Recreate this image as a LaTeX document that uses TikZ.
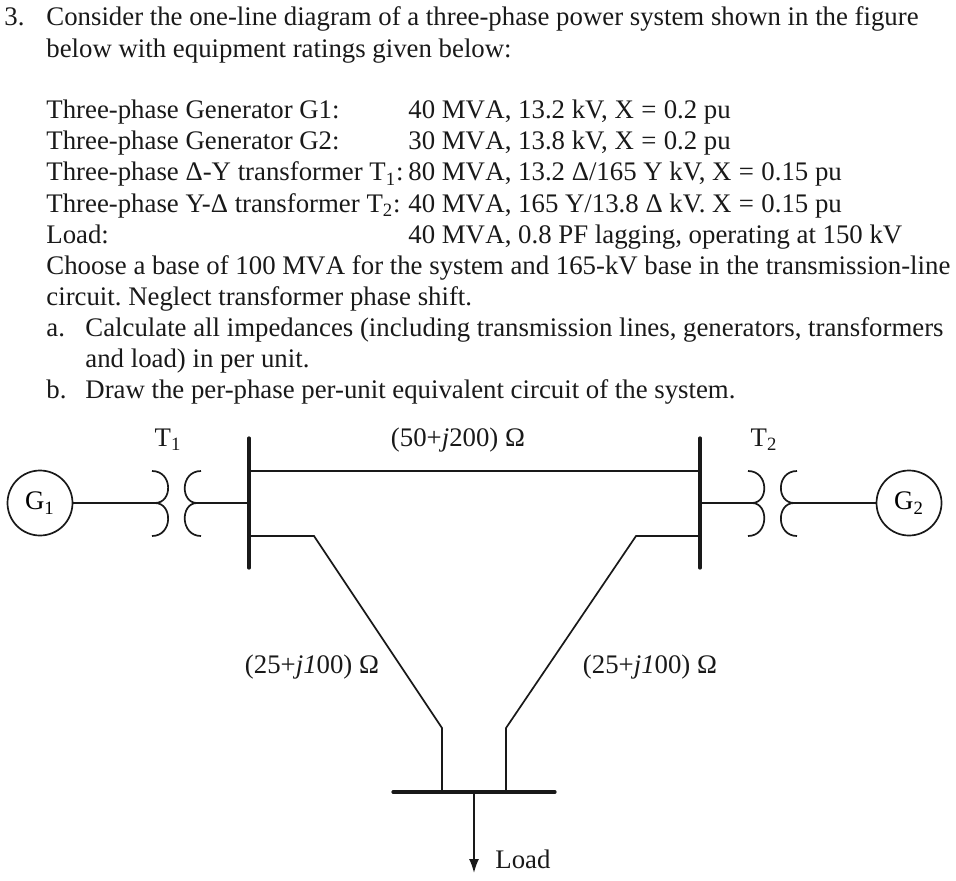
\documentclass[tikz,border=0pt]{standalone}
\usepackage{fontspec}
\setmainfont{Liberation Serif}
\usepackage{tikz}
\usetikzlibrary{arrows.meta}
\tikzset{
txt/.style={inner sep=0pt, anchor=base west, text=black!90, font=\fontsize{13.4}{15}\selectfont},
lab/.style={inner sep=0pt, text=black!90, font=\fontsize{13.4}{15}\selectfont},
wire/.style={line width=0.85pt, black!90},
busbar/.style={line width=1.6pt, black!90, line cap=round},
gen/.style={shape=circle, draw=black!90, line width=0.85pt, minimum size=32.5pt, inner sep=0pt, font=\fontsize{13.4}{15}\selectfont}
}
\newcommand{\sub}[1]{\textsubscript{#1}}
\newcommand{\eqsign}{\hspace{3.7pt}=\hspace{3.7pt}}
\newcommand{\mva}{MV\kern0.2pt A}
\begin{document}
\begin{tikzpicture}[x=0.5pt,y=0.5pt]
    \useasboundingbox (0,0) rectangle (956,880);

    % problem text
    \node[txt] (n3) at (4,854) {3.};
    \node[txt] (l1) at (46,854) {Consider the one-line diagram of a three-phase power system shown in the figure};
    \node[txt] (l2) at (46,822) {below with equipment ratings given below:};
    \node[txt] (r1) at (46,761) {Three-phase Generator G1:};
    \node[txt] (v1) at (408,761) {40 \mva, 13.2 kV, X\eqsign{}0.2 pu};
    \node[txt] (r2) at (46,730) {Three-phase Generator G2:};
    \node[txt] (v2) at (408,730) {30 \mva, 13.8 kV, X\eqsign{}0.2 pu};
    \node[txt] (r3) at (46,699) {Three-phase Δ-Y transformer T\sub{1}:};
    \node[txt] (v3) at (408,699) {80 \mva, 13.2 Δ/165 Y kV, X\eqsign{}0.15 pu};
    \node[txt] (r4) at (46,668) {Three-phase Y-Δ transformer T\sub{2}:};
    \node[txt] (v4) at (408,668) {40 \mva, 165 Y/13.8 Δ kV. X\eqsign{}0.15 pu};
    \node[txt] (r5) at (46,637) {Load:};
    \node[txt] (v5) at (408,637) {40 \mva, 0.8 PF lagging, operating at 150 kV};
    \node[txt] (l3) at (46,606) {Choose a base of 100 \mva{} for the system and 165-kV base in the transmission-line};
    \node[txt] (l4) at (46,575) {circuit.\ Neglect transformer phase shift.};
    \node[txt] (na) at (46,544) {a.};
    \node[txt] (l5) at (85,544) {Calculate all impedances (including transmission lines, generators, transformers};
    \node[txt] (l6) at (85,513) {and load) in per unit.};
    \node[txt] (nb) at (46,482) {b.};
    \node[txt] (l7) at (85,482) {Draw the per-phase per-unit equivalent circuit of the system.};

    % machines and buses
    \node[gen] (G1) at (40,377) {G\sub{1}};
    \node[gen] (G2) at (909,377) {G\sub{2}};
    \coordinate (B1t) at (249,442);
    \coordinate (B1b) at (249,312);
    \coordinate (B2t) at (700,442);
    \coordinate (B2b) at (700,312);
    \coordinate (B3l) at (393,88);
    \coordinate (B3r) at (555,88);
    \draw[busbar] (B1t) -- (B1b);
    \draw[busbar] (B2t) -- (B2b);
    \draw[busbar] (B3l) -- (B3r);

    % transformers
    \node[lab] (T1) at (168,440) {T\sub{1}};
    \node[lab] (T2) at (764,440) {T\sub{2}};
    \coordinate (T1a) at (155,377);
    \coordinate (T1b) at (197,377);
    \coordinate (T2a) at (752,377);
    \coordinate (T2b) at (794,377);
    \draw[wire] (152,409) .. controls (173,409) and (173,377) .. (T1a) .. controls (173,377) and (173,344) .. (152,344);
    \draw[wire] (201,409) .. controls (180,409) and (180,377) .. (T1b) .. controls (180,377) and (180,344) .. (201,344);
    \draw[wire] (748,409) .. controls (769,409) and (769,377) .. (T2a) .. controls (769,377) and (769,344) .. (748,344);
    \draw[wire] (797,409) .. controls (776,409) and (776,377) .. (T2b) .. controls (776,377) and (776,344) .. (797,344);

    % lines
    \draw[wire] (G1) -- (T1a);
    \draw[wire] (T1b) -- (249,377);
    \draw[wire] (700,377) -- (T2a);
    \draw[wire] (T2b) -- (G2);
    \draw[wire] (249,409) -- (700,409);
    \draw[wire] (249,344) -- (314,344) -- (442,152) -- (442,88);
    \draw[wire] (700,344) -- (636,344) -- (506,152) -- (506,88);
    \node[lab] (Z1) at (458,440) {(50+\textit{j}200) Ω};
    \node[lab] (Z2) at (312,213) {(25+\textit{j1}00) Ω};
    \node[lab] (Z3) at (650,213) {(25+\textit{j1}00) Ω};
    \draw[wire, -{Latex[length=7pt,width=5pt]}] (474,88) -- (474,7);
    \node[txt] (L) at (495,12) {Load};

\end{tikzpicture}
\end{document}
